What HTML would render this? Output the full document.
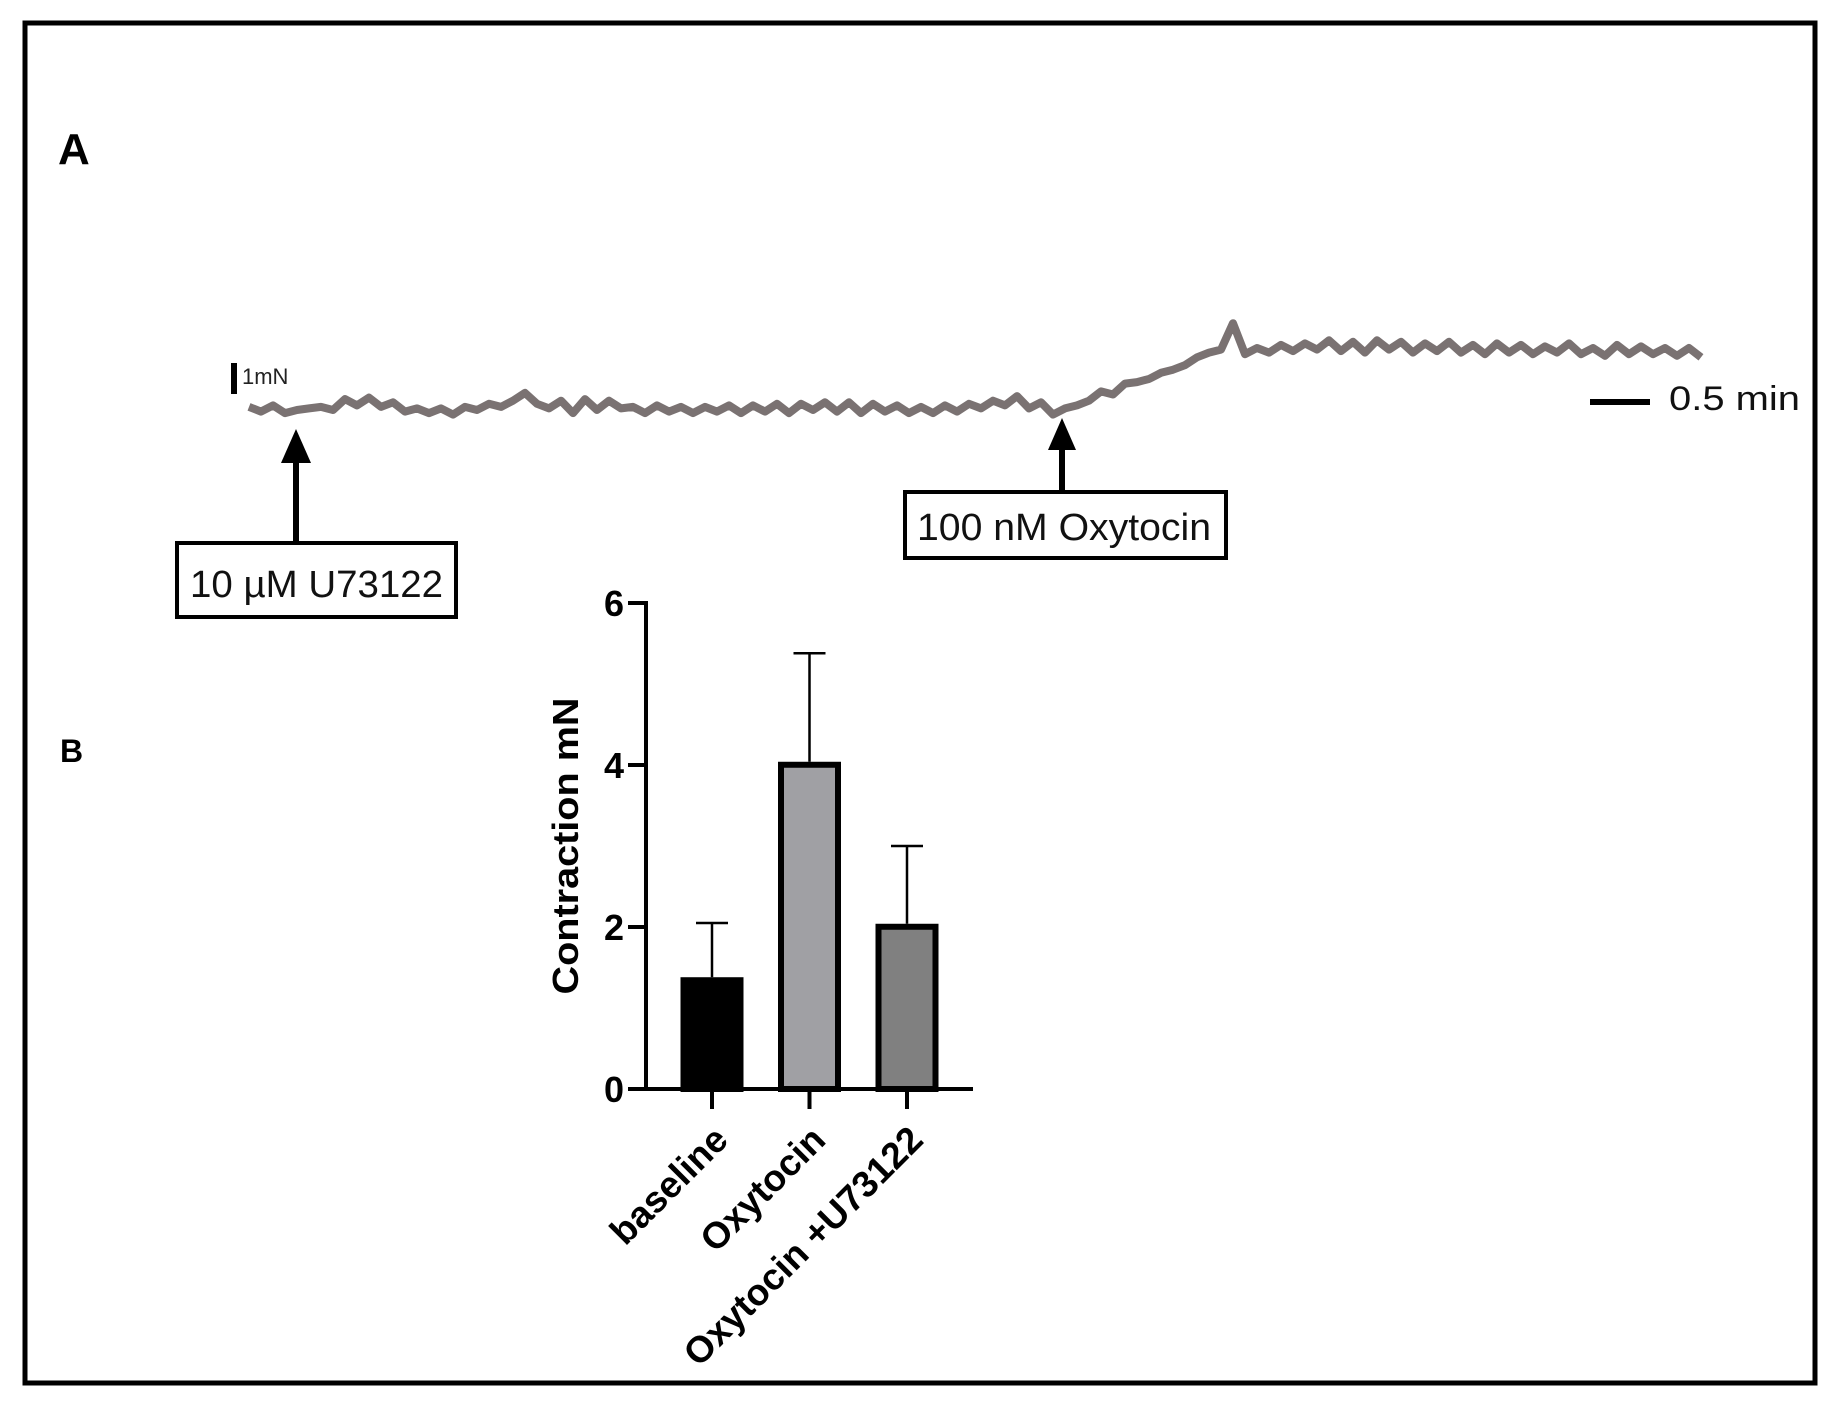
<!DOCTYPE html>
<html><head><meta charset="utf-8"><style>
html,body{margin:0;padding:0;background:#fff;}
svg{display:block;}
text{font-family:"Liberation Sans",Arial,sans-serif;}
</style></head><body>
<svg id="fig" width="1840" height="1406" viewBox="0 0 1840 1406" xmlns="http://www.w3.org/2000/svg">
<rect x="25" y="23" width="1790" height="1360" fill="none" stroke="#000" stroke-width="5"/>
<text x="58" y="164" font-size="44" font-weight="bold">A</text>
<text x="60" y="762" font-size="32" font-weight="bold">B</text>
<g id="trace-g"></g>
<rect x="231" y="363" width="6" height="31" fill="#000"/>
<text x="242" y="384" font-size="22" fill="#222">1mN</text>
<rect x="1590" y="399" width="60" height="6" fill="#000"/>
<text x="1669" y="410" font-size="34" textLength="131" lengthAdjust="spacingAndGlyphs" fill="#111">0.5 min</text>
<g>
<polygon points="296,429 281,463 311,463" fill="#000"/>
<line x1="296" y1="460" x2="296" y2="541" stroke="#000" stroke-width="6"/>
<rect x="177" y="543" width="279" height="74" fill="#fff" stroke="#000" stroke-width="4"/>
<text x="190" y="597" font-size="38" textLength="253" lengthAdjust="spacingAndGlyphs" fill="#111">10 µM U73122</text>
</g>
<g>
<polygon points="1062,418 1048,450 1076,450" fill="#000"/>
<line x1="1062" y1="447" x2="1062" y2="492" stroke="#000" stroke-width="6"/>
<rect x="905" y="492" width="321" height="66" fill="#fff" stroke="#000" stroke-width="4"/>
<text x="917" y="540" font-size="38" textLength="294" lengthAdjust="spacingAndGlyphs" fill="#111">100 nM Oxytocin</text>
</g>
<g id="bar-chart"></g>
</svg>
<script>
// Trace data (mN relative to baseline), sampled every 12 px
const traceValues = [0.1,-0.05,0.15,-0.1,0.0,0.05,0.1,0.0,0.35,0.15,0.4,0.1,0.25,-0.05,0.05,-0.1,0.05,-0.15,0.1,0.0,0.2,0.1,0.3,0.55,0.2,0.05,0.3,-0.1,0.35,0.0,0.3,0.05,0.1,-0.1,0.15,-0.05,0.1,-0.1,0.1,-0.05,0.15,-0.1,0.15,-0.05,0.2,-0.1,0.2,0.0,0.25,-0.05,0.25,-0.1,0.2,-0.05,0.15,-0.1,0.1,-0.1,0.15,-0.05,0.2,0.05,0.3,0.15,0.45,0.05,0.25,-0.15,0.05,0.15,0.3,0.6,0.5,0.85,0.9,1.0,1.2,1.3,1.45,1.7,1.85,1.95,2.8,1.8,2.0,1.85,2.1,1.9,2.15,1.95,2.25,1.9,2.2,1.85,2.25,1.95,2.2,1.85,2.15,1.9,2.2,1.85,2.1,1.8,2.15,1.85,2.1,1.8,2.05,1.85,2.15,1.8,2.0,1.75,2.1,1.8,2.05,1.8,2.0,1.75,2.0,1.7];
// Bar chart data
const categories = ["baseline","Oxytocin","Oxytocin +U73122"];
const means = [1.38, 4.04, 2.04];
const errors = [0.67, 1.34, 0.96];
const barColors = ["#000000","#a0a0a4","#808080"];
const yTicks = [0,2,4,6];

const NS = "http://www.w3.org/2000/svg";
function mk(tag, attrs, parent){const e=document.createElementNS(NS,tag);for(const k in attrs)e.setAttribute(k,attrs[k]);parent.appendChild(e);return e;}

// trace axis functions
const tx = i => 249 + i*(1701-249)/(traceValues.length-1);
const ty = v => 410 - v*31;
const tg = document.getElementById('trace-g');
let d = traceValues.map((v,i)=>(i?'L':'M')+tx(i).toFixed(1)+','+ty(v).toFixed(1)).join(' ');
const tp = mk('path',{d:d,fill:'none',stroke:'#7a7272','stroke-width':8,'stroke-linejoin':'round'},tg);



// bar chart axes
const y0 = 1089, pxPerUnit = 81, axisX = 646;
const by = v => y0 - v*pxPerUnit;
const bx = i => 712 + i*97.5;
const g = document.getElementById('bar-chart');
const yAxis = mk('line',{x1:axisX,y1:by(6)-2,x2:axisX,y2:y0+2,stroke:'#000','stroke-width':4},g);


const xAxis = mk('line',{x1:axisX-2,y1:y0,x2:973,y2:y0,stroke:'#000','stroke-width':4},g);


yTicks.forEach(t=>{
  const l = mk('line',{x1:axisX-18,y1:by(t),x2:axisX,y2:by(t),stroke:'#000','stroke-width':4},g);
  
  
  const tt = mk('text',{x:axisX-22,y:by(t)+13,'font-size':36,'font-weight':'bold','text-anchor':'end'},g);
  tt.textContent = t;
  
  
});
const yt = mk('text',{x:0,y:0,'font-size':36,'font-weight':'bold','text-anchor':'middle',textLength:297,lengthAdjust:'spacingAndGlyphs',transform:'translate(578,846) rotate(-90)'},g);
yt.textContent = 'Contraction mN';


categories.forEach((c,i)=>{
  const cx = bx(i), w = 57, top = by(means[i]);
  const e1 = mk('line',{x1:cx,y1:by(means[i]+errors[i]),x2:cx,y2:top,stroke:'#000','stroke-width':2.5},g);
  
  
  const e2 = mk('line',{x1:cx-16,y1:by(means[i]+errors[i]),x2:cx+16,y2:by(means[i]+errors[i]),stroke:'#000','stroke-width':2.5},g);
  
  
  const r = mk('rect',{x:cx-w/2,y:top+3,width:w,height:y0-top-3,fill:barColors[i],stroke:'#000','stroke-width':6},g);
  
  
  const tk = mk('line',{x1:cx,y1:y0,x2:cx,y2:y0+20,stroke:'#000','stroke-width':4},g);
  
  
  const lb = mk('text',{x:0,y:0,'font-size':37,'font-weight':'bold','text-anchor':'end',transform:'translate('+(cx+18)+',1142) rotate(-45)'},g);
  lb.textContent = c;
  
  
});
</script>
</body></html>
